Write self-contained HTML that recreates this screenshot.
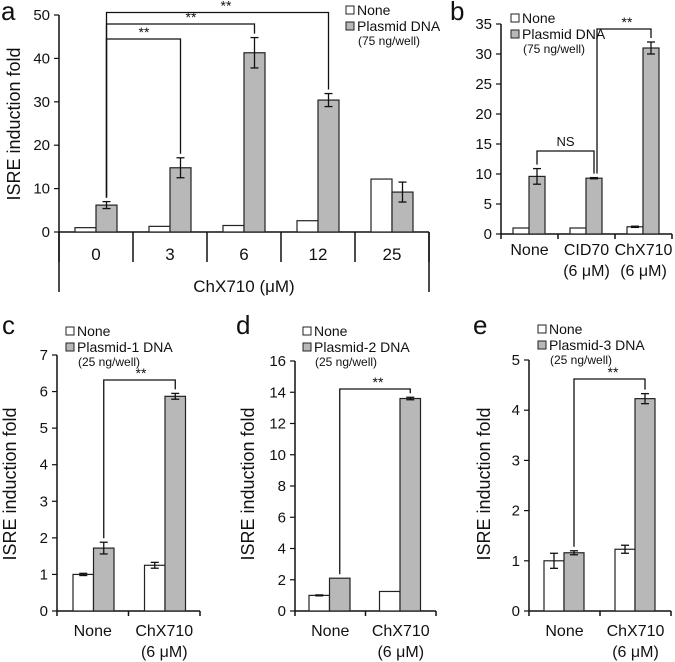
<!DOCTYPE html>
<html><head><meta charset="utf-8"><style>
html,body{margin:0;padding:0;background:#fff;}
svg{display:block;font-family:"Liberation Sans",sans-serif;}
</style></head><body>
<svg id="fig" width="675" height="662" viewBox="0 0 675 662" xmlns="http://www.w3.org/2000/svg"></svg>
<script>
// Panel a
const aCats=["0","3","6","12","25"];
const aNone=[1,1.3,1.5,2.6,12.2];
const aNoneErr=[0,0,0,0,0];
const aPlas=[6.2,14.8,41.3,30.4,9.2];
const aPlasErr=[0.8,2.3,3.5,1.5,2.3];
const aTicks=[0,10,20,30,40,50];
// Panel b
const bCats=[["None"],["CID70","(6 μM)"],["ChX710","(6 μM)"]];
const bNone=[1,1,1.2];
const bNoneErr=[0,0,0.1];
const bPlas=[9.6,9.3,31];
const bPlasErr=[1.3,0.1,1];
const bTicks=[0,5,10,15,20,25,30,35];
// Panel c
const cCats=[["None"],["ChX710","(6 μM)"]];
const cNone=[1,1.25];
const cNoneErr=[0.03,0.08];
const cPlas=[1.72,5.87];
const cPlasErr=[0.16,0.08];
const cTicks=[0,1,2,3,4,5,6,7];
// Panel d
const dNone=[1,1.25];
const dNoneErr=[0.03,0];
const dPlas=[2.1,13.6];
const dPlasErr=[0,0.08];
const dTicks=[0,2,4,6,8,10,12,14,16];
// Panel e
const eNone=[1,1.23];
const eNoneErr=[0.15,0.08];
const ePlas=[1.16,4.23];
const ePlasErr=[0.04,0.1];
const eTicks=[0,1,2,3,4,5];

const NS="http://www.w3.org/2000/svg";
const svg=document.getElementById('fig');
function el(tag,attrs,parent,text){const e=document.createElementNS(NS,tag);for(const k in attrs)e.setAttribute(k,attrs[k]);if(text!==undefined)e.textContent=text;(parent||svg).appendChild(e);return e;}

function panel(p){
  const g=el('g',{});
  
  
  const max=p.ticks[p.ticks.length-1];
  const y=v=>p.y0-(v/max)*(p.y0-p.yTop);
  const gw=(p.xEnd-p.x0)/p.cats.length;
  const L=el('text',{x:p.lx,y:p.ly,'font-size':26,fill:'#111'},g,p.id);
  
  
  const ya=el('line',{x1:p.x0,y1:p.yTop,x2:p.x0,y2:p.y0,stroke:'#111','stroke-width':1.5},g);
  
  
  p.ticks.forEach(t=>{
    el('line',{x1:p.x0-5,y1:y(t),x2:p.x0,y2:y(t),stroke:'#111','stroke-width':1.2},g);
    const tl=el('text',{x:p.x0-9,y:y(t)+5,'font-size':15,'text-anchor':'end',fill:'#111'},g,String(t));
    
    
  });
  const xa=el('line',{x1:p.x0,y1:p.y0,x2:p.xEnd,y2:p.y0,stroke:'#111','stroke-width':1.5},g);
  
  
  for(let i=0;i<=p.cats.length;i++){
    const xx=p.x0+i*gw;
    el('line',{x1:xx,y1:p.y0,x2:xx,y2:p.y0+(p.divLen||5),stroke:'#111','stroke-width':1.5},g);
  }
  if(p.tx>0){
    const tt=el('text',{x:p.tx,y:p.ty,'font-size':18,'text-anchor':'middle',fill:'#111',transform:`rotate(-90 ${p.tx} ${p.ty})`},g,'ISRE induction fold');
    
    
  }
  const cx=[];
  p.cats.forEach((c,i)=>{
    const gx=p.x0+i*gw;
    const bx=gx+p.off;
    const series=[[p.none,p.noneErr,'#fff','none'],[p.plas,p.plasErr,'#b8b8b8','plasmid']];
    series.forEach((s,si)=>{
      const x=bx+si*p.bw, v=s[0][i];
      const r=el('rect',{x:x,y:y(v),width:p.bw,height:p.y0-y(v),fill:s[2],stroke:'#222','stroke-width':1.2},g);
      
      
      const e=s[1][i];
      if(e>0){
        const m=x+p.bw/2;
        el('line',{x1:m,y1:y(v+e),x2:m,y2:y(v-e),stroke:'#111','stroke-width':1.3},g);
        el('line',{x1:m-4,y1:y(v+e),x2:m+4,y2:y(v+e),stroke:'#111','stroke-width':1.3},g);
        el('line',{x1:m-4,y1:y(v-e),x2:m+4,y2:y(v-e),stroke:'#111','stroke-width':1.3},g);
      }
      if(si===1)cx.push({m:x+p.bw/2,top:y(v+e)});
    });
    const labs=Array.isArray(c)?c:[c];
    labs.forEach((t,k)=>{
      const lt=el('text',{x:gx+gw/2,y:p.cy+k*21,'font-size':p.cfs||17,'text-anchor':'middle',fill:'#111'},g,t);
      
      
    });
  });
  const lg=el('g',{},g);
  
  
  el('rect',{x:p.legX,y:p.legY-5,width:8,height:8,fill:'#fff',stroke:'#222','stroke-width':1},lg);
  el('text',{x:p.legX+11,y:p.legY+4,'font-size':14,fill:'#111'},lg,'None');
  el('rect',{x:p.legX,y:p.legY+11,width:8,height:8,fill:'#b8b8b8',stroke:'#222','stroke-width':1},lg);
  el('text',{x:p.legX+11,y:p.legY+20,'font-size':14,fill:'#111'},lg,p.plasName);
  el('text',{x:p.legX+12,y:p.legY+34,'font-size':12,fill:'#111'},lg,p.amount);
  (p.brackets||[]).forEach(b=>{
    const a=cx[b.from],c=cx[b.to];
    const ax=a.m+(b.dx1||0), cxx=c.m+(b.dx2||0);
    const pl=el('polyline',{points:`${ax},${a.top-4} ${ax},${b.y} ${cxx},${b.y} ${cxx},${c.top-4}`,fill:'none',stroke:'#111','stroke-width':1.3},g);
    
    
    const lbl=b.label||'**';
    el('text',{x:(b.sx!==undefined?b.sx:(ax+cxx)/2),y:lbl==='NS'?b.y-5:b.y-2,'font-size':lbl==='NS'?13:14,'text-anchor':'middle',fill:'#111'},g,lbl);
  });
  return y;
}

panel({id:'a',cats:aCats,none:aNone,noneErr:aNoneErr,plas:aPlas,plasErr:aPlasErr,ticks:aTicks,
  x0:59,xEnd:429,y0:232,yTop:15,off:16,bw:21,divLen:30,cy:260,cfs:17,tx:20,ty:124,lx:1,ly:20,
  legX:346,legY:11,plasName:'Plasmid DNA',amount:'(75 ng/well)',
  brackets:[{from:0,to:1,y:39,sx:144},{from:0,to:2,y:24,sx:191},{from:0,to:3,y:12.5,sx:226}]});
el('line',{x1:59,y1:232,x2:59,y2:292,stroke:'#111','stroke-width':1.5});
el('line',{x1:429,y1:232,x2:429,y2:292,stroke:'#111','stroke-width':1.5});
const at=el('text',{x:244,y:292,'font-size':17,'text-anchor':'middle',fill:'#111'},svg,'ChX710 (μM)');



panel({id:'b',cats:bCats,none:bNone,noneErr:bNoneErr,plas:bPlas,plasErr:bPlasErr,ticks:bTicks,
  x0:501,xEnd:672,y0:234,yTop:24,off:12,bw:16,cy:255,cfs:16,tx:0,ty:-100,lx:450,ly:20,
  legX:511,legY:19,plasName:'Plasmid DNA',amount:'(75 ng/well)',
  brackets:[{from:0,to:1,y:151,label:'NS'},{from:1,to:2,y:29,dx1:3,label:'**',sx:627}]});

panel({id:'c',cats:cCats,none:cNone,noneErr:cNoneErr,plas:cPlas,plasErr:cPlasErr,ticks:cTicks,
  x0:57,xEnd:200,y0:611,yTop:355,off:16,bw:20.5,cy:636,cfs:16,tx:16,ty:484,lx:2,ly:334,
  legX:66,legY:332,plasName:'Plasmid-1 DNA',amount:'(25 ng/well)',
  brackets:[{from:0,to:1,y:380,label:'**',sx:141}]});

panel({id:'d',cats:cCats,none:dNone,noneErr:dNoneErr,plas:dPlas,plasErr:dPlasErr,ticks:dTicks,
  x0:295,xEnd:436,y0:611,yTop:361,off:14,bw:20.5,cy:636,cfs:16,tx:254,ty:484,lx:236,ly:334,
  legX:303,legY:332,plasName:'Plasmid-2 DNA',amount:'(25 ng/well)',
  brackets:[{from:0,to:1,y:389,label:'**',sx:378}]});

panel({id:'e',cats:cCats,none:eNone,noneErr:eNoneErr,plas:ePlas,plasErr:ePlasErr,ticks:eTicks,
  x0:529,xEnd:671,y0:611,yTop:360,off:15,bw:20,cy:636,cfs:16,tx:490,ty:484,lx:473,ly:334,
  legX:538,legY:330,plasName:'Plasmid-3 DNA',amount:'(25 ng/well)',
  brackets:[{from:0,to:1,y:379,label:'**',sx:613}]});
</script>
</body></html>
